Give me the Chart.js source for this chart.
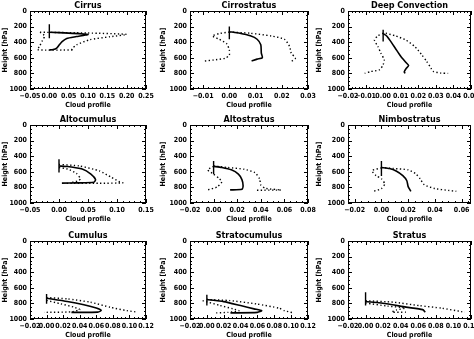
<!DOCTYPE html>
<html>
<head>
<meta charset="utf-8">
<script src="https://cdn.jsdelivr.net/npm/chart.js@4.4.0/dist/chart.umd.min.js"></script>
<style>
  html, body { margin: 0; padding: 0; background: #fff; }
  #wrap { position: relative; width: 474px; height: 339px; overflow: hidden; }
  #wrap canvas { position: absolute; }
</style>
</head>
<body>
<div id="wrap"></div>
<script>
// Profiles: [cloud profile, pressure hPa] pairs
const heightTicks = [0, 200, 400, 600, 800, 1000];

const cirrusMean = [[0, 272], [0.05, 284], [0.10, 300], [0.07, 328], [0.045, 352], [0.033, 392], [0.026, 432], [0.019, 475], [0.01, 494], [0, 500]];
const cirrusHigh = [[-0.024, 272], [0.10, 282], [0.20, 300], [0.157, 330], [0.105, 368], [0.071, 432], [0.058, 488], [0.06, 500]];
const cirrusLow = [[-0.024, 272], [-0.012, 318], [-0.018, 380], [-0.025, 450], [-0.031, 497], [0.06, 500]];
const cirrusBar = [170, 350];

const cirrostratusMean = [[0, 265], [0.004, 285], [0.008, 318], [0.0106, 362], [0.012, 434], [0.0122, 540], [0.0126, 600], [0.0106, 617], [0.0085, 640]];
const cirrostratusHigh = [[0, 270], [0.008, 285], [0.016, 320], [0.021, 362], [0.023, 455], [0.0236, 540], [0.0252, 605], [0.0236, 648]];
const cirrostratusLow = [[0, 270], [-0.004, 290], [-0.0065, 320], [-0.004, 360], [-0.001, 420], [0, 500], [0, 565], [-0.0015, 605], [-0.006, 628], [-0.0095, 642]];
const cirrostratusBar = [200, 362];

const deepMean = [[0, 290], [0.002, 320], [0.004, 380], [0.007, 480], [0.010, 580], [0.013, 660], [0.0145, 700], [0.013, 740], [0.012, 780], [0.0125, 800]];
const deepHigh = [[0.0015, 285], [0.007, 319], [0.0127, 370], [0.018, 455], [0.022, 562], [0.0248, 647], [0.0272, 732], [0.0285, 774], [0.033, 796], [0.037, 800]];
const deepLow = [[0, 285], [-0.003, 319], [-0.005, 370], [-0.003, 455], [-0.0013, 540], [0.0006, 626], [0, 689], [-0.002, 753], [-0.007, 776], [-0.0105, 800]];
const deepBar = [240, 390];

const altocumulusMean = [[0, 525], [0.015, 533], [0.04, 565], [0.055, 630], [0.063, 700], [0.06, 735], [0.03, 742], [0.005, 745]];
const altocumulusHigh = [[0, 505], [0.035, 525], [0.07, 590], [0.09, 670], [0.105, 730], [0.11, 742], [0.07, 747], [0.01, 748]];
const altocumulusLow = [[0, 545], [0.015, 565], [0.03, 620], [0.037, 690], [0.033, 715], [0.02, 740]];
const altocumulusBar = [440, 610];

const altostratusMean = [[0, 530], [0.007, 545], [0.015, 575], [0.021, 630], [0.024, 700], [0.025, 780], [0.024, 825], [0.014, 832]];
const altostratusHigh = [[0, 525], [0.012, 545], [0.026, 568], [0.035, 610], [0.039, 690], [0.04, 770], [0.044, 812], [0.057, 833], [0.036, 836]];
const altostratusLow = [[0, 530], [-0.005, 575], [0, 630], [0.005, 690], [0.007, 730], [0.003, 795], [-0.005, 832]];
const altostratusBar = [462, 630];

const nimbostratusMean = [[0, 545], [0.006, 558], [0.011, 590], [0.016, 650], [0.019, 715], [0.02, 790], [0.022, 850]];
const nimbostratusHigh = [[0, 545], [0.009, 558], [0.02, 575], [0.026, 630], [0.029, 690], [0.032, 765], [0.04, 815], [0.05, 838], [0.056, 850]];
const nimbostratusLow = [[0, 550], [-0.007, 585], [-0.004, 650], [0, 690], [0.0025, 755], [0, 815], [-0.006, 850]];
const nimbostratusBar = [462, 655];

const cumulusMean = [[0, 733], [0.025, 775], [0.045, 818], [0.06, 860], [0.066, 890], [0.062, 912], [0.03, 915]];
const cumulusHigh = [[0, 725], [0.025, 742], [0.053, 785], [0.077, 850], [0.097, 893], [0.11, 912]];
const cumulusLow = [[0, 762], [0.017, 805], [0.033, 848], [0.04, 880], [0.03, 908], [-0.003, 915]];
const cumulusBar = [680, 805];

const stratocumulusMean = [[0, 750], [0.02, 777], [0.04, 828], [0.056, 870], [0.065, 893], [0.06, 915], [0.028, 922]];
const stratocumulusHigh = [[0, 750], [0.027, 764], [0.059, 807], [0.086, 862], [0.092, 893], [0.102, 920]];
const stratocumulusLow = [[-0.005, 765], [0.015, 825], [0.031, 870], [0.038, 895], [0.025, 915], [0.011, 922]];
const stratocumulusBar = [690, 828];

const stratusMean = [[0, 776], [0.024, 805], [0.046, 848], [0.065, 880], [0.068, 912]];
const stratusHigh = [[0, 765], [0.032, 785], [0.061, 828], [0.087, 862], [0.109, 905], [0.113, 912]];
const stratusLow = [[0, 795], [0.025, 835], [0.045, 858], [0.035, 885], [0.03, 912], [0.046, 912]];
const stratusBar = [657, 828];

const panels = [
  { title: "Cirrus", mean: cirrusMean, high: cirrusHigh, low: cirrusLow, bar: cirrusBar, min: -0.05, max: 0.25, step: 0.05 },
  { title: "Cirrostratus", mean: cirrostratusMean, high: cirrostratusHigh, low: cirrostratusLow, bar: cirrostratusBar, min: -0.015, max: 0.03, step: 0.01 },
  { title: "Deep Convection", mean: deepMean, high: deepHigh, low: deepLow, bar: deepBar, min: -0.02, max: 0.05, step: 0.01 },
  { title: "Altocumulus", mean: altocumulusMean, high: altocumulusHigh, low: altocumulusLow, bar: altocumulusBar, min: -0.05, max: 0.15, step: 0.05 },
  { title: "Altostratus", mean: altostratusMean, high: altostratusHigh, low: altostratusLow, bar: altostratusBar, min: -0.02, max: 0.08, step: 0.02 },
  { title: "Nimbostratus", mean: nimbostratusMean, high: nimbostratusHigh, low: nimbostratusLow, bar: nimbostratusBar, min: -0.025, max: 0.067, step: 0.02 },
  { title: "Cumulus", mean: cumulusMean, high: cumulusHigh, low: cumulusLow, bar: cumulusBar, min: -0.02, max: 0.12, step: 0.02 },
  { title: "Stratocumulus", mean: stratocumulusMean, high: stratocumulusHigh, low: stratocumulusLow, bar: stratocumulusBar, min: -0.02, max: 0.12, step: 0.02 },
  { title: "Stratus", mean: stratusMean, high: stratusHigh, low: stratusLow, bar: stratusBar, min: -0.02, max: 0.12, step: 0.02 }
];

// page layout of the plot boxes
const rowTops = [11, 125, 241];
const plotHeight = 78;
const colLefts = [30, 190, 348];
const colRights = [146, 308, 471];
const yAxisWidths = [30, 32, 34];
const titleBlock = 11;
const xAxisHeight = 20;

const family = "'Liberation Sans Narrow', 'DejaVu Sans Condensed', 'Liberation Sans', sans-serif";

// box with inward major/minor ticks on all four sides, like the IDL frame
const frameTicks = {
  id: "frameTicks",
  afterDraw(chart, args, opts) {
    const { ctx, chartArea: a, scales: { x, y } } = chart;
    ctx.save();
    ctx.strokeStyle = "#000";
    ctx.lineWidth = 1;
    ctx.beginPath();
    const px = (v) => Math.round(x.getPixelForValue(v)) + 0.5;
    const py = (v) => Math.round(y.getPixelForValue(v)) + 0.5;
    const minorX = opts.step / opts.xMinor;
    for (let i = Math.ceil(x.min / minorX - 1e-6); i * minorX <= x.max + 1e-9; i++) {
      const v = i * minorX;
      const major = Math.abs(v / opts.step - Math.round(v / opts.step)) < 1e-6;
      const len = major ? 4 : 2;
      const p = px(v);
      ctx.moveTo(p, a.bottom); ctx.lineTo(p, a.bottom - len);
      ctx.moveTo(p, a.top); ctx.lineTo(p, a.top + len);
    }
    for (let v = 0; v <= 1000; v += 50) {
      const len = v % 200 === 0 ? 4 : 2;
      const p = py(v);
      ctx.moveTo(a.left, p); ctx.lineTo(a.left + len, p);
      ctx.moveTo(a.right, p); ctx.lineTo(a.right - len, p);
    }
    ctx.stroke();
    ctx.strokeRect(Math.round(a.left) + 0.5, Math.round(a.top) + 0.5, Math.round(a.width) - 1, Math.round(a.height) - 1);
    ctx.restore();
  }
};

function toPoints(pairs) {
  return pairs.map(([x, y]) => ({ x, y }));
}

function formatTick(value) {
  const s = Math.abs(value).toFixed(2);
  return value < -1e-9 ? "\u2212" + s : s;
}

const wrap = document.getElementById("wrap");

panels.forEach((panel, i) => {
  const row = Math.floor(i / 3);
  const col = i % 3;
  const yw = yAxisWidths[col];
  const rightPad = col === 2 ? 474 - colRights[col] : 10;
  const canvas = document.createElement("canvas");
  const w = yw + (colRights[col] - colLefts[col]) + rightPad;
  const h = titleBlock + plotHeight + xAxisHeight;
  canvas.width = w;
  canvas.height = h;
  canvas.style.left = (colLefts[col] - yw) + "px";
  canvas.style.top = (rowTops[row] - titleBlock) + "px";
  canvas.style.width = w + "px";
  canvas.style.height = h + "px";
  wrap.appendChild(canvas);

  const dotted = { borderColor: "#000", borderWidth: 1.4, borderDash: [1.3, 2.4], pointRadius: 0, showLine: true, tension: 0.2, fill: false };

  new Chart(canvas, {
    type: "scatter",
    data: {
      datasets: [
        { data: toPoints(panel.high), ...dotted },
        { data: toPoints(panel.low), ...dotted },
        { data: toPoints(panel.mean), borderColor: "#000", borderWidth: 1.6, pointRadius: 0, showLine: true, tension: 0.2, fill: false },
        { data: [{ x: 0, y: panel.bar[0] }, { x: 0, y: panel.bar[1] }], borderColor: "#000", borderWidth: 1.4, pointRadius: 0, showLine: true, fill: false }
      ]
    },
    options: {
      responsive: false,
      animation: false,
      devicePixelRatio: 1,
      layout: { padding: { left: 0, right: rightPad, top: 0, bottom: 0 } },
      plugins: {
        legend: { display: false },
        tooltip: { enabled: false },
        title: {
          display: true,
          fullSize: false,
          text: panel.title,
          color: "#000",
          font: { family, size: 9, weight: "bold", lineHeight: 1.2 },
          padding: { top: 0, bottom: 0.2 }
        },
        frameTicks: { step: panel.step, xMinor: panel.step === 0.02 ? 4 : 5 }
      },
      scales: {
        x: {
          type: "linear",
          min: panel.min,
          max: panel.max,
          border: { display: false },
          grid: { display: false, drawTicks: false },
          ticks: {
            stepSize: panel.step,
            includeBounds: false,
            autoSkip: false,
            maxRotation: 0,
            padding: 3,
            color: "#000",
            font: { family, size: 7, weight: "bold" },
            callback: (v) => formatTick(v)
          },
          title: {
            display: true,
            text: "Cloud profile",
            color: "#000",
            font: { family, size: 7, weight: "bold", lineHeight: 1.2 },
            padding: { top: 0, bottom: 0 }
          },
          afterFit(scale) {
            scale.height = xAxisHeight;
            scale.paddingLeft = 0;
            scale.paddingRight = 0;
          }
        },
        y: {
          type: "linear",
          reverse: true,
          min: 0,
          max: 1000,
          border: { display: false },
          grid: { display: false, drawTicks: false },
          afterBuildTicks(scale) {
            scale.ticks = heightTicks.map((value) => ({ value }));
          },
          ticks: {
            padding: 3,
            color: "#000",
            font: { family, size: 7, weight: "bold" },
            callback: (v) => String(v)
          },
          title: {
            display: true,
            text: "Height [hPa]",
            color: "#000",
            font: { family, size: 7, weight: "bold", lineHeight: 1.2 },
            padding: { top: 1, bottom: 0 }
          },
          afterFit(scale) {
            scale.width = yw;
            scale.paddingTop = 0;
            scale.paddingBottom = 0;
          }
        }
      }
    },
    plugins: [frameTicks]
  });
});
</script>
</body>
</html>
